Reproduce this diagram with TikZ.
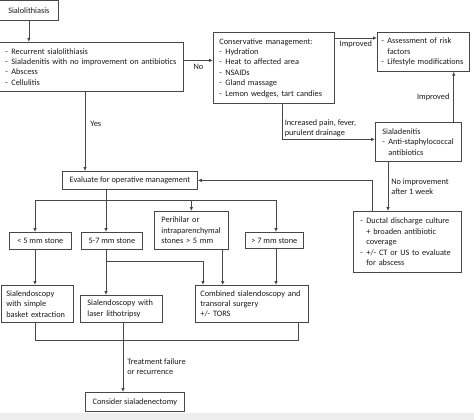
\documentclass[tikz,border=0pt]{standalone}
\usepackage{fontspec}
\setmainfont{Carlito}
\usetikzlibrary{arrows.meta}
\tikzset{
  box/.style={draw, anchor=north west, inner xsep=6pt, inner ysep=2pt, align=left,
    font=\fontsize{8.3}{10.4}\selectfont, text=black!90},
  lbl/.style={font=\fontsize{8.3}{10.4}\selectfont, align=left, inner sep=2pt, text=black!90},
}
\newcommand{\bitem}[1]{\makebox[6pt][l]{-}#1}
\newcommand{\cont}{\hspace*{6pt}}

\begin{document}
\begin{tikzpicture}[x=1pt, y=-1pt, color=black!72, line width=0.75pt, >={Latex[length=4pt,width=3.5pt]}]
    \useasboundingbox (0,0) rectangle (474,420);
    \fill[black!7] (0,413) rectangle (474,420);

    \node[box, minimum width=59pt, minimum height=20pt] (stone) at (-1,0) {Sialolithiasis};
    \node[box, text width=172pt, minimum height=49pt] (crit) at (-1,42)
        {\bitem{Recurrent sialolithiasis}\\\bitem{Sialadenitis with no improvement on antibiotics}\\\bitem{Abscess}\\\bitem{Cellulitis}};
    \node[box, text width=109pt, minimum height=71pt] (cons) at (213,32)
        {Conservative management:\\\bitem{Hydration}\\\bitem{Heat to affected area}\\\bitem{NSAIDs}\\\bitem{Gland massage}\\\bitem{Lemon wedges, tart candies}};
    \node[box, inner xsep=4pt, text width=84pt, minimum height=39pt] (assess) at (377,32)
        {\bitem{Assessment of risk}\\\cont factors\\\bitem{Lifestyle modifications}};
    \node[box, inner xsep=7pt, text width=72pt, minimum height=39pt] (sialad) at (375,122)
        {Sialadenitis\\\bitem{Anti-staphylococcal}\\\cont antibiotics};
    \node[box, inner xsep=7pt, text width=94pt, minimum height=61pt] (ductal) at (353,211)
        {\bitem{Ductal discharge culture}\\\cont + broaden antibiotic\\\cont coverage\\\bitem{+/- CT or US to evaluate}\\\cont for abscess};

    \node[box, minimum width=135pt, minimum height=18pt] (eval) at (62,171) {Evaluate for operative management};
    \node[box, minimum width=62pt, minimum height=17pt] (lt5) at (9,232) {< 5 mm stone};
    \node[box, minimum width=61pt, minimum height=17pt] (s57) at (81,232) {5-7 mm stone};
    \node[box, inner xsep=7pt, text width=60pt, minimum height=38pt] (peri) at (154,211)
        {Perihilar or\\intraparenchymal\\stones > 5 mm};
    \node[box, minimum width=58pt, minimum height=16pt] (gt7) at (245,232) {> 7 mm stone};

    \node[box, inner xsep=5pt, text width=62pt, minimum height=37pt] (simple) at (1,285)
        {Sialendoscopy\\with simple\\basket extraction};
    \node[box, inner xsep=7pt, text width=68pt, minimum height=27pt] (laser) at (80,295)
        {Sialendoscopy with\\laser lithotripsy};
    \node[box, inner xsep=5pt, text width=103pt, minimum height=37pt] (comb) at (195,285)
        {Combined sialendoscopy and\\transoral surgery\\+/- TORS};
    \node[box, minimum width=99pt, minimum height=19pt] (consider) at (85,392) {Consider sialadenectomy};

    % upper part
    \draw[->] (stone.south) -- (stone.south |- crit.north);
    \draw[->] ([yshift=6.5pt]crit.east) -- ([yshift=6.5pt]crit.east -| cons.west)
        node[lbl, midway, below=1pt] {No};
    \draw[->] ([yshift=-6pt]cons.north east) -- ([yshift=-6pt]cons.north east -| assess.west)
        node[lbl, midway, below] {Improved};
    \draw[->] ([xshift=8.5pt]cons.south) |- ([yshift=2.5pt]sialad.west)
        node[lbl, pos=.5, anchor=south west] {Increased pain, fever,\\purulent drainage};
    \draw[->] ([xshift=-8pt]sialad.north east) -- ([xshift=-8pt]sialad.north east |- assess.south)
        node[lbl, midway, left=2pt] {Improved};
    \draw[->] ([xshift=13pt]sialad.south west) -- ([xshift=13pt]sialad.south west |- ductal.north)
        node[lbl, midway, right=1pt] {No improvement\\after 1 week};
    \draw[->] ([xshift=19pt]ductal.north west) |- (eval.east);
    \draw[->] ([xshift=86pt]crit.south west) -- ([xshift=86pt]crit.south west |- eval.north)
        node[lbl, pos=.4, right=3pt] {Yes};

    % operative branches
    \coordinate (fork) at ([xshift=44pt, yshift=-11pt]eval.south west);
    \draw[->] ([xshift=44pt]eval.south west) -- ([xshift=44pt]eval.south west |- s57.north);
    \draw[->] (fork) -| ([xshift=26pt]lt5.north west);
    \draw[->] (fork) -| (peri.north);
    \draw[->] (fork) -| ([xshift=31pt]gt7.north west);

    \draw[->] ([xshift=26pt]lt5.south west) -- ([xshift=26pt]lt5.south west |- simple.north);
    \draw[->] ([xshift=25pt]s57.south west) -- ([xshift=25pt]s57.south west |- laser.north);
    \draw[->] ([xshift=25pt]s57.south west) -- ++(0,12) -| ([xshift=8pt]comb.north west);
    \draw[->] ([xshift=-6pt]peri.south east) -- ([xshift=-6pt]peri.south east |- comb.north);
    \draw[->] ([xshift=31pt]gt7.south west) -- ([xshift=31pt]gt7.south west |- comb.north);

    % treatment failure
    \draw ([xshift=34pt]simple.south west) -- ++(0,18) -| ([xshift=-10pt]comb.south east);
    \draw[->] ([xshift=43pt]laser.south west) -- ([xshift=43pt]laser.south west |- consider.north)
        node[lbl, pos=.63, right=2pt] {Treatment failure\\or recurrence};
\end{tikzpicture}
\end{document}
